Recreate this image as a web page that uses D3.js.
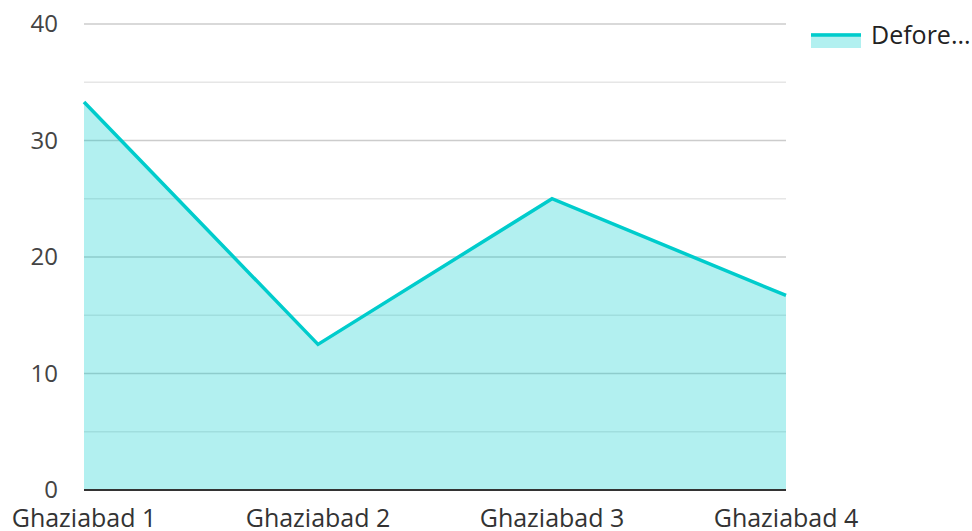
<!DOCTYPE html>
<html><head><meta charset="utf-8">
<script src="https://cdn.jsdelivr.net/npm/d3@7"></script>
<style>body{margin:0;background:#fff;font-family:"Open Sans",sans-serif;}</style>
</head><body>
<svg id="c" width="972" height="531"></svg>
<script>
const categories = ["Ghaziabad 1","Ghaziabad 2","Ghaziabad 3","Ghaziabad 4"];
const values = [33.3, 12.5, 25, 16.7];
const seriesName = "Defore...";
const majorTicks = [0,10,20,30,40];
const minorTicks = [5,15,25,35];

const svg = d3.select("#c");
const mLeft = 84, mRight = 786, mTop = 24, mBottom = 490;
const x = d3.scalePoint().domain(categories).range([mLeft, mRight]);
const y = d3.scaleLinear().domain([0, 40]).range([mBottom, mTop]);
const color = "#00cccc";

// gridlines
svg.append("g").selectAll("line").data(minorTicks).join("line")
  .attr("x1", mLeft).attr("x2", mRight).attr("y1", d=>y(d)).attr("y2", d=>y(d))
  .attr("stroke", "#e6e6e6").attr("stroke-width", 1.5);
svg.append("g").selectAll("line").data(majorTicks.filter(d=>d>0)).join("line")
  .attr("x1", mLeft).attr("x2", mRight).attr("y1", d=>y(d)).attr("y2", d=>y(d))
  .attr("stroke", "#cccccc").attr("stroke-width", 1.5);

// area
const area = d3.area().x((d,i)=>x(categories[i])).y0(y(0)).y1(d=>y(d));
svg.append("path").datum(values).attr("d", area).attr("fill", color).attr("fill-opacity", 0.3);
const line = d3.line().x((d,i)=>x(categories[i])).y(d=>y(d));
svg.append("path").datum(values).attr("d", line).attr("fill", "none")
  .attr("stroke", color).attr("stroke-width", 3.5).attr("stroke-linejoin","miter");

// baseline
svg.append("line").attr("x1", mLeft).attr("x2", mRight).attr("y1", y(0)).attr("y2", y(0))
  .attr("stroke", "#333").attr("stroke-width", 2);

// y labels
svg.append("g").selectAll("text").data(majorTicks).join("text")
  .attr("x", 58).attr("y", d=>y(d)).attr("dy", "0.35em").attr("text-anchor","end")
  .attr("font-size", 24).attr("fill", "#444").text(d=>d);

// x labels
svg.append("g").selectAll("text").data(categories).join("text")
  .attr("x", d=>x(d)).attr("y", 527).attr("text-anchor","middle")
  .attr("font-size", 25).attr("fill", "#333").text(d=>d);

// legend
const lg = svg.append("g");
lg.append("rect").attr("x", 811).attr("y", 33).attr("width", 50).attr("height", 15)
  .attr("fill", color).attr("fill-opacity", 0.3);
lg.append("line").attr("x1", 811).attr("x2", 861).attr("y1", 35).attr("y2", 35)
  .attr("stroke", color).attr("stroke-width", 3.5);
lg.append("text").attr("x", 871).attr("y", 35).attr("dy","0.35em")
  .attr("font-size", 25).attr("fill", "#222").text(seriesName);
</script>
</body></html>
